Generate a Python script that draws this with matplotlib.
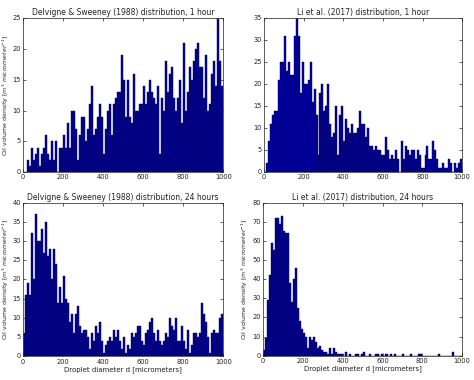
import numpy as np
import matplotlib
matplotlib.use("Agg")
import matplotlib.pyplot as plt

plt.style.use("classic")
plt.rcParams["font.family"] = ["DejaVu Sans"]
plt.rcParams["font.size"] = 5
plt.rcParams["mathtext.fontset"] = "dejavusans"

# bin edges, 10 micrometers wide
edges = np.arange(0, 1001, 10)

ds_1h = [0, 0, 2, 1, 4, 2, 3, 4, 1, 3,
         4, 6, 3, 2, 5, 2, 5, 0, 4, 4,
         6, 4, 8, 4, 10, 10, 7, 2, 6, 9,
         9, 5, 7, 11, 14, 6, 7, 9, 11, 9,
         3, 7, 10, 11, 6, 11, 12, 13, 13, 19,
         15, 9, 15, 9, 8, 16, 10, 10, 11, 11,
         14, 11, 13, 15, 13, 12, 11, 14, 3, 12,
         10, 18, 13, 16, 17, 12, 10, 12, 15, 8,
         21, 10, 13, 17, 15, 18, 20, 21, 17, 17,
         12, 19, 10, 11, 16, 18, 14, 25, 18, 14]

li_1h = [0, 2, 7, 11, 13, 14, 14, 21, 25, 25,
         31, 23, 25, 22, 22, 31, 35, 31, 18, 25,
         20, 20, 21, 25, 16, 19, 13, 4, 18, 20,
         14, 15, 20, 11, 8, 9, 15, 4, 13, 15,
         7, 12, 10, 9, 11, 9, 9, 10, 14, 11,
         11, 8, 10, 6, 6, 5, 6, 5, 5, 4,
         4, 8, 5, 3, 4, 3, 5, 3, 0, 7,
         3, 6, 5, 4, 5, 5, 3, 5, 4, 1,
         1, 4, 6, 3, 3, 7, 5, 3, 1, 1,
         2, 1, 1, 3, 2, 0, 2, 1, 2, 3]

ds_24h = [6, 16, 19, 16, 32, 20, 37, 30, 30, 33,
          27, 35, 26, 28, 20, 28, 24, 14, 18, 14,
          21, 15, 14, 9, 11, 6, 11, 13, 8, 6,
          7, 7, 5, 2, 6, 4, 8, 6, 9, 4,
          1, 3, 4, 5, 4, 7, 5, 7, 4, 2,
          5, 1, 3, 2, 6, 5, 6, 8, 8, 4,
          3, 6, 7, 9, 10, 6, 4, 7, 4, 3,
          4, 6, 5, 10, 8, 7, 10, 4, 4, 8,
          4, 2, 7, 1, 3, 6, 6, 5, 6, 14,
          11, 9, 5, 1, 6, 7, 6, 6, 10, 11]

li_24h = [3, 9, 29, 42, 59, 55, 72, 72, 69, 73,
          65, 64, 64, 38, 28, 40, 46, 25, 18, 14,
          12, 10, 4, 10, 8, 10, 7, 4, 5, 3,
          2, 2, 1, 4, 1, 4, 2, 1, 1, 1,
          0, 2, 0, 1, 0, 0, 1, 1, 0, 1,
          2, 0, 0, 1, 0, 0, 1, 1, 0, 1,
          0, 1, 1, 0, 1, 0, 1, 0, 0, 0,
          1, 0, 0, 0, 1, 0, 0, 0, 1, 1,
          0, 0, 0, 0, 0, 0, 0, 0, 1, 0,
          0, 0, 0, 0, 0, 2, 0, 0, 0, 0]

panels = [
    ("Delvigne & Sweeney (1988) distribution, 1 hour", ds_1h, 25, 5, True, False),
    ("Li et al. (2017) distribution, 1 hour", li_1h, 35, 5, False, False),
    ("Delvigne & Sweeney (1988) distribution, 24 hours", ds_24h, 40, 5, True, True),
    ("Li et al. (2017) distribution, 24 hours", li_24h, 80, 10, True, True),
]

# axes positions in figure fractions (left, bottom, width, height)
positions = [
    (0.049, 0.547, 0.422, 0.405),
    (0.557, 0.547, 0.418, 0.405),
    (0.049, 0.062, 0.422, 0.405),
    (0.555, 0.064, 0.420, 0.403),
]

fig = plt.figure(figsize=(4.74, 3.8), dpi=100, facecolor="white")
centers = (edges[:-1] + edges[1:]) / 2

for (title, vals, ymax, ystep, ylab, xlab), pos in zip(panels, positions):
    ax = fig.add_axes(pos)
    ax.hist(centers, bins=edges, weights=vals, color="#0000b4",
            edgecolor="#00002a", linewidth=0.3)
    ax.set_xlim(0, 1000)
    ax.set_ylim(0, ymax)
    ax.set_xticks(np.arange(0, 1001, 200))
    ax.set_yticks(np.arange(0, ymax + 1, ystep))
    ax.tick_params(direction="in", length=2.5, width=0.5, pad=1.5,
                   top=True, right=True, labelsize=4.8, colors="#222222")
    for s in ax.spines.values():
        s.set_linewidth(0.6)
        s.set_color("#444444")
    ax.set_title(title, fontsize=5.5, pad=2, color="#222222")
    if ylab:
        ax.set_ylabel(r"Oil volume density [$m^3\ micrometer^{-1}$]",
                      fontsize=4.5, labelpad=1.5, color="#222222")
    if xlab:
        ax.set_xlabel("Droplet diameter d [micrometers]", fontsize=5,
                      labelpad=1, color="#222222")

fig.savefig("out.png", dpi=100, facecolor="white")
